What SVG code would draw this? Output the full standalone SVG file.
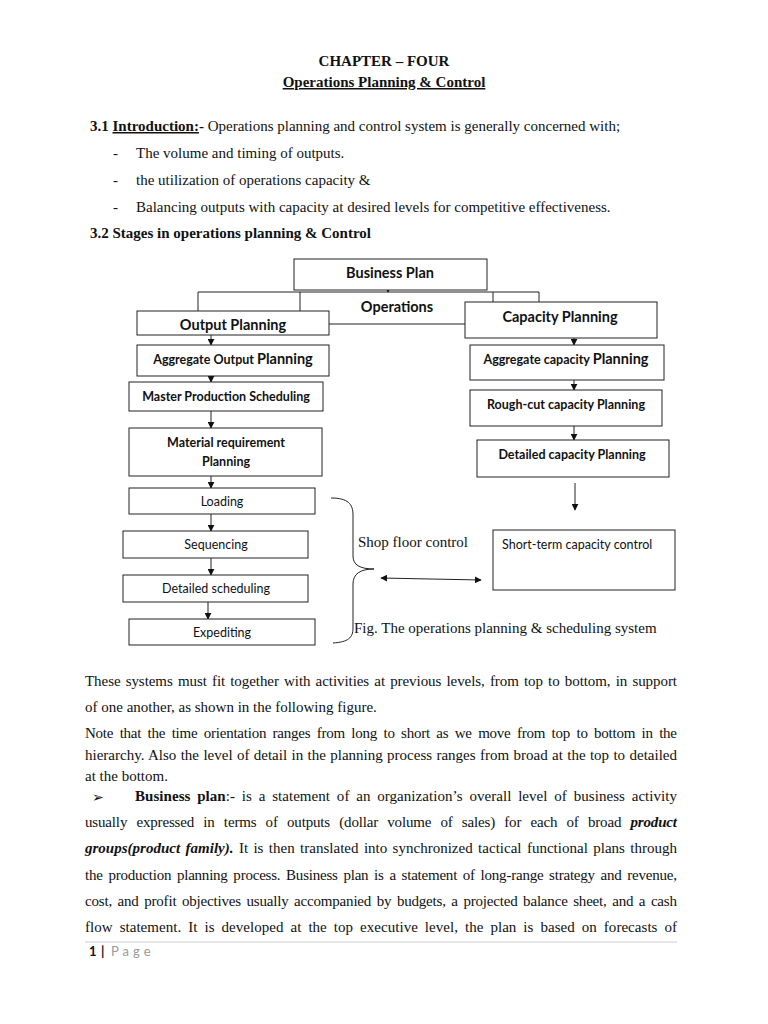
<svg xmlns="http://www.w3.org/2000/svg" width="768" height="1024" viewBox="0 0 768 1024">
<style>
.bg{fill:#fff}
.box{fill:#fff;stroke:#222;stroke-width:1}
.ln{fill:none;stroke:#222;stroke-width:1}
.ar{fill:none;stroke:#222;stroke-width:1;marker-end:url(#ah)}
.bt{font-family:Lato,"Open Sans",sans-serif;font-weight:bold;font-size:12.5px;fill:#111;text-anchor:middle}
.bbig{font-family:Lato,"Open Sans",sans-serif;font-weight:bold;font-size:14.5px;fill:#111;text-anchor:middle}
.rt{font-family:Lato,"Open Sans",sans-serif;font-size:12.5px;fill:#111;text-anchor:middle}
.rts{font-family:Lato,"Open Sans",sans-serif;font-size:12.5px;fill:#111;text-anchor:start}
.s{font-family:"Liberation Serif","Times New Roman",serif;font-size:15px;fill:#111}
.sb{font-family:"Liberation Serif","Times New Roman",serif;font-size:15px;font-weight:bold;fill:#111}
.c{text-anchor:middle}
.ft{font-family:Lato,"Open Sans",sans-serif;font-size:13px}
</style>
<defs>
<marker id="ah" viewBox="0 0 10 10" refX="9" refY="5" markerWidth="7" markerHeight="7" orient="auto" markerUnits="userSpaceOnUse">
<path d="M0,0 L10,5 L0,10 Z" fill="#111"/>
</marker>
<marker id="ahs" viewBox="0 0 10 10" refX="1" refY="5" markerWidth="7" markerHeight="7" orient="auto" markerUnits="userSpaceOnUse">
<path d="M10,0 L0,5 L10,10 Z" fill="#111"/>
</marker>
</defs>
<rect class="bg" x="0" y="0" width="768" height="1024"/>

<g id="header">
<text class="sb c" x="384" y="66">CHAPTER – FOUR</text>
<text class="sb c" x="384" y="87" text-decoration="underline">Operations Planning &amp; Control</text>
<text class="s" x="90" y="131"><tspan font-weight="bold">3.1 </tspan><tspan font-weight="bold" text-decoration="underline">Introduction:</tspan><tspan font-weight="bold">-</tspan> Operations planning and control system is generally concerned with;</text>
<text class="s" x="113" y="158">-</text>
<text class="s" x="136" y="158">The volume and timing of outputs.</text>
<text class="s" x="113" y="185">-</text>
<text class="s" x="136" y="185">the utilization of operations capacity &amp;</text>
<text class="s" x="113" y="212">-</text>
<text class="s" x="136" y="212">Balancing outputs with capacity at desired levels for competitive effectiveness.</text>
<text class="sb" x="90" y="238">3.2 Stages in operations planning &amp; Control</text>
</g>

<g id="connectors">
<polyline class="ln" points="198,311 198,292 539,292 539,302"/>
<line class="ln" x1="300" y1="292" x2="300" y2="311"/>
<line class="ln" x1="493" y1="292" x2="493" y2="302"/>
<line class="ln" x1="329" y1="324" x2="465" y2="324"/>
<line class="ar" x1="388" y1="278" x2="388" y2="292"/>
<line class="ar" x1="211" y1="324" x2="211" y2="345"/>
<line class="ar" x1="211" y1="376" x2="211" y2="382"/>
<line class="ar" x1="211" y1="411" x2="211" y2="428"/>
<line class="ar" x1="211" y1="476" x2="211" y2="488"/>
<line class="ar" x1="211" y1="514" x2="211" y2="531"/>
<line class="ar" x1="211" y1="558" x2="211" y2="575"/>
<line class="ar" x1="208" y1="602" x2="208" y2="619"/>
<line class="ar" x1="574" y1="338" x2="574" y2="345"/>
<line class="ar" x1="574" y1="356" x2="574" y2="390"/>
<line class="ar" x1="574" y1="421" x2="574" y2="440"/>
<line class="ar" x1="575" y1="483" x2="575" y2="510"/>
<path class="ln" d="M331,498 C348,498 353,504 353,515 L353,556 C353,565 360,569 374,569 C360,569 353,574 353,584 L353,628 C353,638 348,642 333,643"/>
<line class="ln" x1="381" y1="578" x2="481" y2="580" marker-start="url(#ahs)" marker-end="url(#ah)"/>
</g>

<g id="n-business-plan">
<rect class="box" x="294" y="259" width="193" height="31"/>
<text class="bbig" x="390" y="278">Business Plan</text>
</g>
<g id="n-operations">
<text class="bbig" x="397" y="312">Operations</text>
</g>
<g id="n-output-planning">
<rect class="box" x="137" y="311" width="192" height="24"/>
<text class="bbig" x="233" y="330">Output Planning</text>
</g>
<g id="n-capacity-planning">
<rect class="box" x="465" y="302" width="192" height="36"/>
<text class="bbig" x="560" y="322">Capacity Planning</text>
</g>
<g id="n-aggregate-output">
<rect class="box" x="137" y="345" width="192" height="31"/>
<text class="bt" x="233" y="364">Aggregate Output <tspan font-size="14.5px">Planning</tspan></text>
</g>
<g id="n-aggregate-capacity">
<rect class="box" x="470" y="345" width="194" height="35"/>
<text class="bt" x="566" y="364">Aggregate capacity <tspan font-size="14.5px">Planning</tspan></text>
</g>
<g id="n-mps">
<rect class="box" x="129" y="382" width="194" height="29"/>
<text class="bt" x="226" y="401">Master Production Scheduling</text>
</g>
<g id="n-rough-cut">
<rect class="box" x="470" y="390" width="192" height="36"/>
<text class="bt" x="566" y="409">Rough-cut capacity Planning</text>
</g>
<g id="n-mrp">
<rect class="box" x="129" y="428" width="193" height="48"/>
<text class="bt" x="226" y="447">Material requirement</text>
<text class="bt" x="226" y="466">Planning</text>
</g>
<g id="n-detailed-capacity">
<rect class="box" x="477" y="440" width="192" height="37"/>
<text class="bt" x="572" y="459">Detailed capacity Planning</text>
</g>
<g id="n-loading">
<rect class="box" x="129" y="488" width="186" height="26"/>
<text class="rt" x="222" y="506">Loading</text>
</g>
<g id="n-sequencing">
<rect class="box" x="123" y="531" width="185" height="27"/>
<text class="rt" x="216" y="549">Sequencing</text>
</g>
<g id="n-detailed-scheduling">
<rect class="box" x="123" y="575" width="185" height="27"/>
<text class="rt" x="216" y="593">Detailed scheduling</text>
</g>
<g id="n-expediting">
<rect class="box" x="129" y="619" width="186" height="26"/>
<text class="rt" x="222" y="637">Expediting</text>
</g>
<g id="n-short-term">
<rect class="box" x="493" y="530" width="182" height="60"/>
<text class="rts" x="502" y="549">Short-term capacity control</text>
</g>
<g id="labels">
<text class="s" x="358" y="547">Shop floor control</text>
<text class="s" x="354" y="633">Fig. The operations planning &amp; scheduling system</text>
</g>

<g id="body">
<text class="s" x="85" y="686" word-spacing="1.5" textLength="592" lengthAdjust="spacing">These systems must fit together with activities at previous levels, from top to bottom, in support</text>
<text class="s" x="85" y="712">of one another, as shown in the following figure.</text>
<text class="s" x="85" y="738" word-spacing="2.9" textLength="592" lengthAdjust="spacing">Note that the time orientation ranges from long to short as we move from top to bottom in the</text>
<text class="s" x="85" y="760" word-spacing="0.6" textLength="592" lengthAdjust="spacing">hierarchy. Also the level of detail in the planning process ranges from broad at the top to detailed</text>
<text class="s" x="85" y="781">at the bottom.</text>
<text x="92" y="802" font-family="DejaVu Sans,sans-serif" font-size="14px" fill="#111">➢</text>
<text class="s" x="135" y="801" word-spacing="3" textLength="542" lengthAdjust="spacing"><tspan font-weight="bold">Business plan</tspan>:- is a statement of an organization’s overall level of business activity</text>
<text class="s" x="85" y="827" word-spacing="5.6" textLength="592" lengthAdjust="spacing">usually expressed in terms of outputs (dollar volume of sales) for each of broad <tspan font-weight="bold" font-style="italic">product</tspan></text>
<text class="s" x="85" y="853" word-spacing="1.6" textLength="592" lengthAdjust="spacing"><tspan font-weight="bold" font-style="italic">groups(product family).</tspan> It is then translated into synchronized tactical functional plans through</text>
<text class="s" x="85" y="880" word-spacing="2.2" textLength="592" lengthAdjust="spacing">the production planning process. Business plan is a statement of long-range strategy and revenue,</text>
<text class="s" x="85" y="906" word-spacing="2" textLength="592" lengthAdjust="spacing">cost, and profit objectives usually accompanied by budgets, a projected balance sheet, and a cash</text>
<text class="s" x="85" y="932" word-spacing="3.2" textLength="592" lengthAdjust="spacing">flow statement. It is developed at the top executive level, the plan is based on forecasts of</text>
</g>

<g id="footer">
<line x1="85" y1="942" x2="677" y2="942" stroke="#ccc" stroke-width="1"/>
<text class="ft" x="89" y="956" font-weight="bold" fill="#111">1</text>
<text class="ft" x="101" y="956" font-weight="bold" fill="#111">|</text>
<text class="ft" x="111" y="956" fill="#999" letter-spacing="4">Page</text>
</g>
</svg>
